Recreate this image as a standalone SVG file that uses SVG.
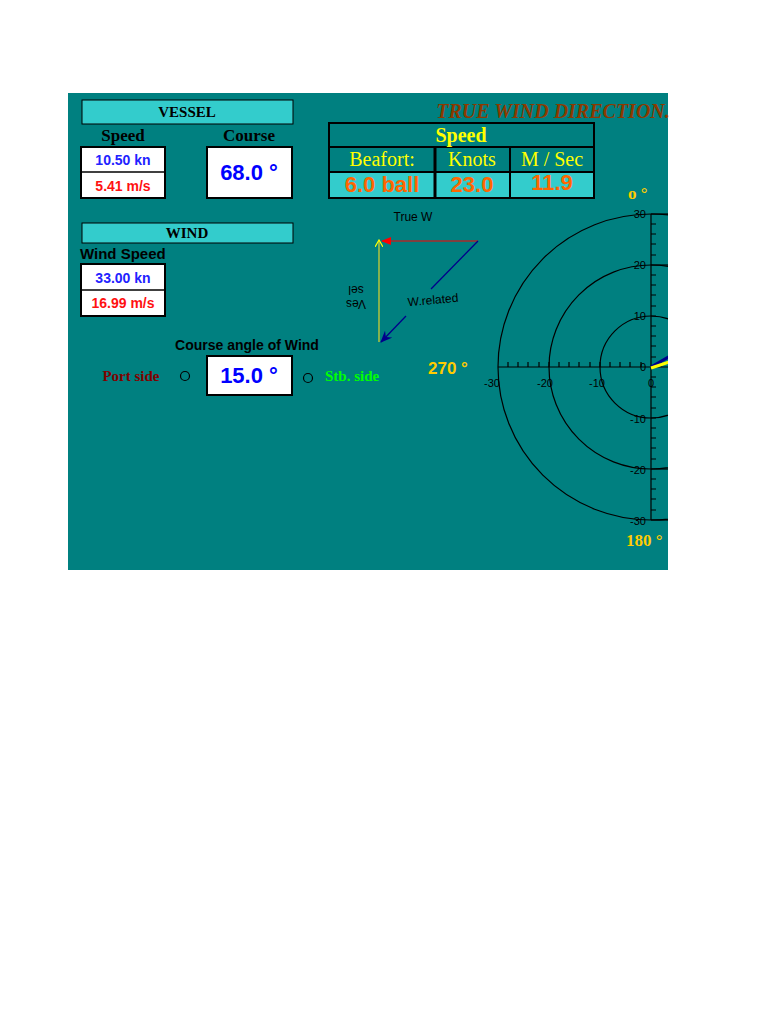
<svg xmlns="http://www.w3.org/2000/svg" width="768" height="1024" viewBox="0 0 768 1024">
<style>
.hd{fill:#33cccc;stroke:#000;stroke-width:1}
.ser{font-family:"Liberation Serif",serif}
.san{font-family:"Liberation Sans",sans-serif}
.box{fill:#fff;stroke:#000;stroke-width:2}
.cell{fill:none;stroke:#000;stroke-width:2}
.ax{font-family:"Liberation Sans",sans-serif;font-size:11px;fill:#000}
</style>
<defs>
<clipPath id="cp"><rect x="68" y="93" width="600" height="477"/></clipPath>
<marker id="mr" markerWidth="10" markerHeight="8" refX="9" refY="4" orient="auto" markerUnits="userSpaceOnUse"><path d="M0,0L10,4L0,8z" fill="#f00"/></marker>
<marker id="mb" markerWidth="12" markerHeight="10" refX="11" refY="5" orient="auto" markerUnits="userSpaceOnUse"><path d="M0,0L12,5L0,10L4,5z" fill="#00008b"/></marker>
<marker id="my" markerWidth="8" markerHeight="8" refX="7" refY="4" orient="auto" markerUnits="userSpaceOnUse"><path d="M0,0L7,4L0,8" fill="none" stroke="#ff0" stroke-width="1.2"/></marker>
</defs>
<rect x="68" y="93" width="600" height="477" fill="#008080"/>
<g id="vessel">
<rect class="hd" x="82" y="100" width="211" height="24"/>
<text class="ser" x="187" y="117" font-size="15" font-weight="bold" text-anchor="middle">VESSEL</text>
<text class="ser" x="123" y="141" font-size="17" font-weight="bold" text-anchor="middle">Speed</text>
<text class="ser" x="249" y="141" font-size="17" font-weight="bold" text-anchor="middle">Course</text>
<rect class="box" x="81" y="147" width="84" height="51"/>
<line x1="81" y1="172" x2="165" y2="172" stroke="#000" stroke-width="1.5"/>
<text class="san" x="123" y="165" font-size="14" font-weight="bold" fill="#22f" text-anchor="middle">10.50 kn</text>
<text class="san" x="123" y="191" font-size="14" font-weight="bold" fill="#f11" text-anchor="middle">5.41 m/s</text>
<rect class="box" x="207" y="147" width="85" height="51"/>
<text class="san" x="249" y="180" font-size="22" font-weight="bold" fill="#00f" text-anchor="middle">68.0 °</text>
</g>
<g id="wind">
<rect class="hd" x="82" y="223" width="211" height="20"/>
<text class="ser" x="187" y="238" font-size="15" font-weight="bold" text-anchor="middle">WIND</text>
<text class="san" x="80" y="259" font-size="15" font-weight="bold">Wind Speed</text>
<rect class="box" x="81" y="264" width="84" height="52"/>
<line x1="81" y1="290" x2="165" y2="290" stroke="#000" stroke-width="1.5"/>
<text class="san" x="123" y="283" font-size="14" font-weight="bold" fill="#22f" text-anchor="middle">33.00 kn</text>
<text class="san" x="123" y="308" font-size="14" font-weight="bold" fill="#f11" text-anchor="middle">16.99 m/s</text>
<text class="san" x="247" y="350" font-size="14" font-weight="bold" text-anchor="middle">Course angle of Wind</text>
<text class="ser" x="131" y="381" font-size="15" font-weight="bold" fill="#800000" text-anchor="middle">Port side</text>
<circle cx="185" cy="376" r="4.5" fill="none" stroke="#000" stroke-width="1.2"/>
<rect class="box" x="207" y="356" width="85" height="39"/>
<text class="san" x="249" y="383" font-size="22" font-weight="bold" fill="#00f" text-anchor="middle">15.0 °</text>
<circle cx="308" cy="378" r="4.5" fill="none" stroke="#000" stroke-width="1.2"/>
<text class="ser" x="325" y="381" font-size="15" font-weight="bold" fill="#0f0">Stb. side</text>
</g>
<g id="speed-table">
<text class="ser" x="553" y="118" font-size="20" font-weight="bold" font-style="italic" fill="#8b3a00" text-anchor="middle">TRUE WIND DIRECTION.</text>
<rect x="330" y="172" width="264" height="26" fill="#33cccc"/>
<rect class="cell" x="329" y="123" width="265" height="75"/>
<line x1="329" y1="147" x2="594" y2="147" stroke="#000" stroke-width="2"/>
<line x1="329" y1="172" x2="594" y2="172" stroke="#000" stroke-width="2"/>
<line x1="435" y1="147" x2="435" y2="198" stroke="#000" stroke-width="3"/>
<line x1="510" y1="147" x2="510" y2="198" stroke="#000" stroke-width="2"/>
<text class="ser" x="461" y="142" font-size="20" font-weight="bold" fill="#ff0" text-anchor="middle">Speed</text>
<text class="ser" x="382" y="166" font-size="20" fill="#ff0" text-anchor="middle">Beafort:</text>
<text class="ser" x="472" y="166" font-size="20" fill="#ff0" text-anchor="middle">Knots</text>
<text class="ser" x="552" y="166" font-size="20" fill="#ff0" text-anchor="middle">M / Sec</text>
<text class="san" x="382" y="192" font-size="22" font-weight="bold" fill="#f60" text-anchor="middle">6.0 ball</text>
<text class="san" x="472" y="192" font-size="22" font-weight="bold" fill="#f60" text-anchor="middle">23.0</text>
<text class="san" x="552" y="190" font-size="22" font-weight="bold" fill="#f60" text-anchor="middle">11.9</text>
</g>
<g id="triangle">
<text class="san" x="413" y="221" font-size="12" text-anchor="middle">True W</text>
<line x1="478" y1="241" x2="382" y2="241" stroke="#f00" stroke-width="1" marker-end="url(#mr)"/>
<line x1="379" y1="342" x2="379" y2="240" stroke="#cc3" stroke-width="1.3" marker-end="url(#my)"/>
<line x1="478" y1="241" x2="431" y2="289" stroke="#00008b" stroke-width="1.3"/>
<line x1="406" y1="316" x2="381" y2="342" stroke="#00008b" stroke-width="1.3" marker-end="url(#mb)"/>
<text class="san" x="433" y="304" font-size="12" text-anchor="middle" transform="rotate(-5 433 300)">W.related</text>
<text class="san" font-size="12" text-anchor="middle" transform="translate(356,300) rotate(180)"><tspan x="0" y="0">Ves</tspan><tspan x="0" y="14">sel</tspan></text>
</g>
<g id="polar" clip-path="url(#cp)">
<g fill="none" stroke="#000" stroke-width="1.2">
<circle cx="651" cy="367" r="51"/>
<circle cx="651" cy="367" r="102"/>
<circle cx="651" cy="367" r="153"/>
<line x1="498" y1="367" x2="700" y2="367"/>
<line x1="651" y1="214" x2="651" y2="520"/>
<line x1="651" y1="214" x2="668" y2="214"/>
<line x1="651" y1="265" x2="668" y2="265"/>
<line x1="651" y1="469" x2="668" y2="469"/>
<line x1="651" y1="520" x2="668" y2="520"/>
<path d="M508,367v-5M518,367v-5M528,367v-5M539,367v-5M549,367v-5M559,367v-5M569,367v-5M579,367v-5M590,367v-5M600,367v-5M610,367v-5M620,367v-5M630,367v-5M641,367v-5M661,367v-5"/>
<path d="M651,224h5M651,234h5M651,244h5M651,255h5M651,275h5M651,285h5M651,295h5M651,306h5M651,316h5M651,326h5M651,336h5M651,346h5M651,357h5M651,377h5M651,387h5M651,397h5M651,408h5M651,418h5M651,428h5M651,438h5M651,448h5M651,459h5M651,479h5M651,489h5M651,499h5M651,510h5"/>
</g>
<line x1="651" y1="367" x2="672" y2="355" stroke="#00008b" stroke-width="3"/>
<line x1="651" y1="368" x2="672" y2="361" stroke="#ff0" stroke-width="3"/>
<text class="ax" x="646" y="218" text-anchor="end">30</text>
<text class="ax" x="646" y="269" text-anchor="end">20</text>
<text class="ax" x="646" y="320" text-anchor="end">10</text>
<text class="ax" x="646" y="371" text-anchor="end">0</text>
<text class="ax" x="646" y="423" text-anchor="end">-10</text>
<text class="ax" x="646" y="474" text-anchor="end">-20</text>
<text class="ax" x="646" y="525" text-anchor="end">-30</text>
<text class="ax" x="492" y="387" text-anchor="middle">-30</text>
<text class="ax" x="545" y="387" text-anchor="middle">-20</text>
<text class="ax" x="597" y="387" text-anchor="middle">-10</text>
<text class="ax" x="651" y="387" text-anchor="middle">0</text>
<text class="ser" x="628" y="199" font-size="17" font-weight="bold" fill="#fc0">o °</text>
<text class="san" x="428" y="374" font-size="17" font-weight="bold" fill="#fc0">270 °</text>
<text class="ser" x="626" y="546" font-size="17" font-weight="bold" fill="#fc0">180 °</text>
</g>
</svg>
